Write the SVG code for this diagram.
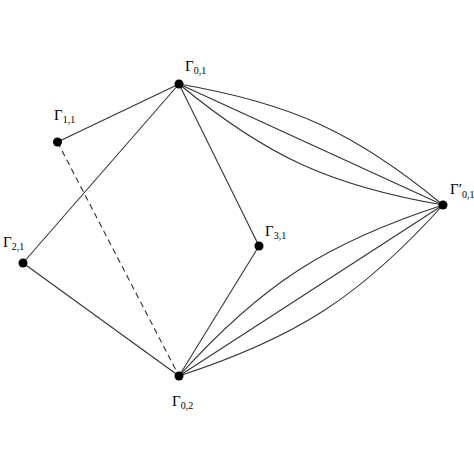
<svg xmlns="http://www.w3.org/2000/svg" width="474" height="474" viewBox="0 0 474 474">
<style>
.e{stroke:#333;stroke-width:1.1;fill:none}
.d{stroke-dasharray:6,4}
.n{fill:#000}
text{font-family:"Liberation Serif","DejaVu Serif",serif;font-size:15px;fill:#000}
.s{font-size:10px}
</style>
<rect width="474" height="474" fill="#fff"/>
<g id="edges">
<line class="e" x1="57.5" y1="142" x2="179" y2="84"/>
<line class="e" x1="23" y1="263" x2="179" y2="84"/>
<line class="e" x1="179" y1="84" x2="259" y2="246"/>
<line class="e" x1="259" y1="246" x2="179" y2="376"/>
<line class="e" x1="23" y1="263" x2="179" y2="376"/>
<line class="e d" x1="57.5" y1="142" x2="179" y2="376"/>
<path class="e" d="M179,84 C291.1,103.1 355.5,132.5 443,205"/>
<line class="e" x1="179" y1="84" x2="443" y2="205"/>
<path class="e" d="M179,84 C266.5,156.5 330.9,185.9 443,205"/>
<path class="e" d="M179,376 C261.4,284.5 325.9,243 443,205"/>
<line class="e" x1="179" y1="376" x2="443" y2="205"/>
<path class="e" d="M179,376 C296.1,338 360.6,296.5 443,205"/>
</g>
<g id="g01"><circle class="n" cx="179" cy="84" r="4.5"/><text x="185" y="71">Γ<tspan class="s" dy="3">0,1</tspan></text></g>
<g id="g11"><circle class="n" cx="57.5" cy="142" r="4.5"/><text x="54" y="120">Γ<tspan class="s" dy="3">1,1</tspan></text></g>
<g id="g21"><circle class="n" cx="23" cy="263" r="4.5"/><text x="3" y="247">Γ<tspan class="s" dy="3">2,1</tspan></text></g>
<g id="g31"><circle class="n" cx="259" cy="246" r="4.5"/><text x="265" y="236">Γ<tspan class="s" dy="3">3,1</tspan></text></g>
<g id="g02"><circle class="n" cx="179" cy="376" r="4.5"/><text x="172" y="406">Γ<tspan class="s" dy="3">0,2</tspan></text></g>
<g id="gp01"><circle class="n" cx="443" cy="205" r="4.5"/><text x="450" y="194">Γ′<tspan class="s" dy="4">0,1</tspan></text></g>
</svg>
